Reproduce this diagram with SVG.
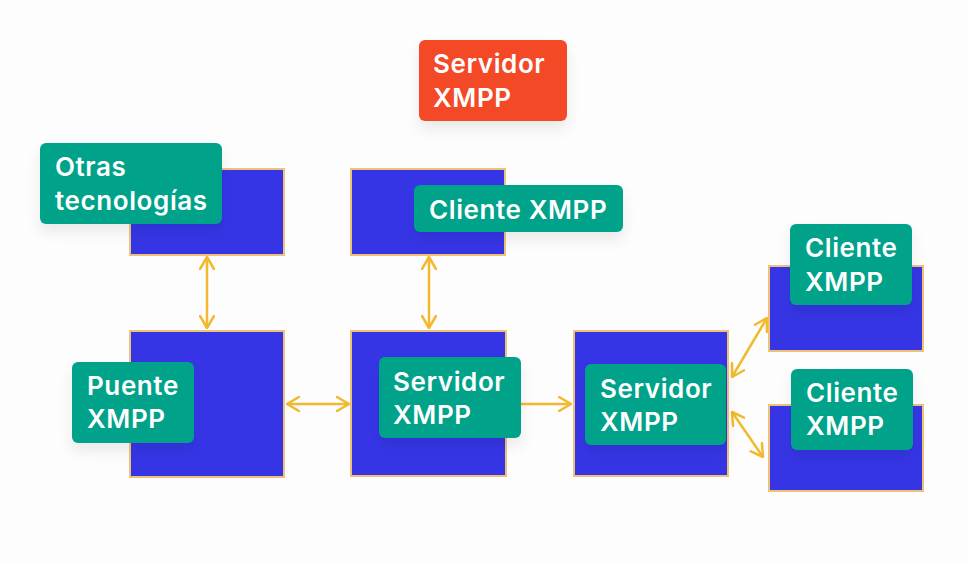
<svg xmlns="http://www.w3.org/2000/svg" width="967" height="563" viewBox="0 0 967 563">
<defs>
<style>
.box{fill:#3535E6;stroke:#EFC27A;stroke-width:2}
.lbl{fill:#00A38A}
.red{fill:#F44A25}
.t{font-family:Inter,"Liberation Sans",sans-serif;font-size:26px;font-weight:600;letter-spacing:0.6px;fill:#FFFFFF}
.c{fill:none;stroke:#F2B92C;stroke-width:2.5}
</style>
<filter id="sh" x="-20%" y="-20%" width="140%" height="160%">
<feDropShadow dx="0" dy="8" stdDeviation="7" flood-color="#000" flood-opacity="0.08"/>
</filter>
<marker id="ah" viewBox="0 0 14 16" refX="13" refY="8" markerWidth="14" markerHeight="16" markerUnits="userSpaceOnUse" orient="auto-start-reverse">
<path d="M1,1 L13,8 L1,15" fill="none" stroke="#F2B92C" stroke-width="2.5" stroke-linecap="round" stroke-linejoin="round"/>
</marker>
</defs>
<rect width="967" height="563" fill="#FDFDFD"/>
<g id="connectors">
<line class="c" x1="207" y1="257" x2="207" y2="328" marker-start="url(#ah)" marker-end="url(#ah)"/>
<line class="c" x1="429" y1="257" x2="429" y2="328" marker-start="url(#ah)" marker-end="url(#ah)"/>
<line class="c" x1="287" y1="404" x2="349" y2="404" marker-start="url(#ah)" marker-end="url(#ah)"/>
<line class="c" x1="508" y1="404" x2="571" y2="404" marker-end="url(#ah)"/>
<line class="c" x1="732" y1="377" x2="767" y2="318" marker-start="url(#ah)" marker-end="url(#ah)"/>
<line class="c" x1="732" y1="412" x2="763" y2="457" marker-start="url(#ah)" marker-end="url(#ah)"/>
</g>
<g id="servidor-top">
<rect class="red" x="419" y="40" width="148" height="81" rx="6" filter="url(#sh)"/>
<text class="t" x="433" y="73">Servidor</text>
<text class="t" x="433" y="107">XMPP</text>
</g>
<g id="otras">
<rect class="box" x="130" y="169" width="154" height="86"/>
<rect class="lbl" x="40" y="143" width="182" height="81" rx="6" filter="url(#sh)"/>
<text class="t" x="55" y="176">Otras</text>
<text class="t" x="55" y="210">tecnologías</text>
</g>
<g id="cliente-top">
<rect class="box" x="351" y="169" width="154" height="86"/>
<rect class="lbl" x="414" y="185" width="209" height="47" rx="6" filter="url(#sh)"/>
<text class="t" x="429" y="219">Cliente XMPP</text>
</g>
<g id="puente">
<rect class="box" x="130" y="331" width="154" height="146"/>
<rect class="lbl" x="72" y="362" width="122" height="81" rx="6" filter="url(#sh)"/>
<text class="t" x="87" y="395">Puente</text>
<text class="t" x="87" y="428">XMPP</text>
</g>
<g id="servidor-mid">
<rect class="box" x="351" y="331" width="155" height="145"/>
<rect class="lbl" x="379" y="357" width="142" height="81" rx="6" filter="url(#sh)"/>
<text class="t" x="393" y="391">Servidor</text>
<text class="t" x="393" y="424">XMPP</text>
</g>
<g id="servidor-right">
<rect class="box" x="574" y="331" width="154" height="145"/>
<rect class="lbl" x="585" y="364" width="141" height="81" rx="6" filter="url(#sh)"/>
<text class="t" x="600" y="398">Servidor</text>
<text class="t" x="600" y="431">XMPP</text>
</g>
<g id="cliente-r1">
<rect class="box" x="769" y="266" width="154" height="85"/>
<rect class="lbl" x="790" y="224" width="122" height="81" rx="6" filter="url(#sh)"/>
<text class="t" x="805" y="257">Cliente</text>
<text class="t" x="805" y="291">XMPP</text>
</g>
<g id="cliente-r2">
<rect class="box" x="769" y="405" width="154" height="86"/>
<rect class="lbl" x="791" y="369" width="122" height="81" rx="6" filter="url(#sh)"/>
<text class="t" x="806" y="402">Cliente</text>
<text class="t" x="806" y="435">XMPP</text>
</g>
</svg>
